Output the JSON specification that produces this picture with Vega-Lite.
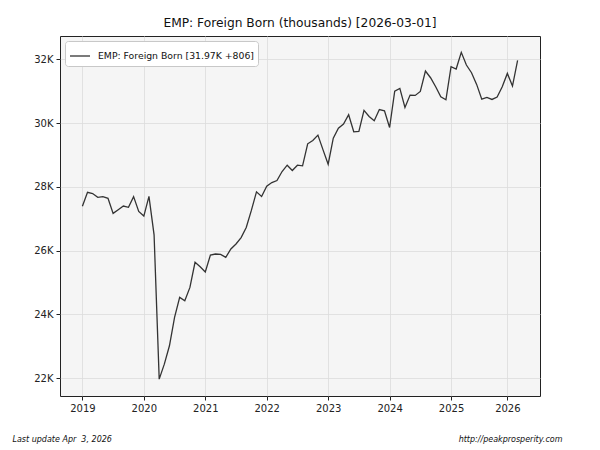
{
  "$schema": "https://vega.github.io/schema/vega-lite/v6.json",
  "width": 480,
  "height": 360,
  "autosize": "none",
  "padding": {"left": 60, "top": 36, "right": 60, "bottom": 54},
  "background": "white",
  "title": {
    "text": "EMP: Foreign Born (thousands) [2026-03-01]",
    "font": "DejaVu Sans",
    "fontSize": 12.25,
    "fontWeight": "normal",
    "color": "#111111",
    "anchor": "middle",
    "offset": 7
  },
  "config": {
    "view": {"fill": "#f5f5f5", "stroke": "#222222", "strokeWidth": 1},
    "axis": {
      "labelFont": "DejaVu Sans",
      "labelFontSize": 10,
      "labelColor": "#222222",
      "tickColor": "#222222",
      "tickSize": 4,
      "labelPadding": 3,
      "domain": false,
      "gridColor": "#dcdcdc",
      "gridWidth": 0.8
    }
  },
  "data": {
    "values": [
      {"month": "2019-01", "value": 27390, "series": "EMP: Foreign Born [31.97K +806]"},
      {"month": "2019-02", "value": 27832, "series": "EMP: Foreign Born [31.97K +806]"},
      {"month": "2019-03", "value": 27790, "series": "EMP: Foreign Born [31.97K +806]"},
      {"month": "2019-04", "value": 27674, "series": "EMP: Foreign Born [31.97K +806]"},
      {"month": "2019-05", "value": 27695, "series": "EMP: Foreign Born [31.97K +806]"},
      {"month": "2019-06", "value": 27642, "series": "EMP: Foreign Born [31.97K +806]"},
      {"month": "2019-07", "value": 27170, "series": "EMP: Foreign Born [31.97K +806]"},
      {"month": "2019-08", "value": 27285, "series": "EMP: Foreign Born [31.97K +806]"},
      {"month": "2019-09", "value": 27400, "series": "EMP: Foreign Born [31.97K +806]"},
      {"month": "2019-10", "value": 27358, "series": "EMP: Foreign Born [31.97K +806]"},
      {"month": "2019-11", "value": 27695, "series": "EMP: Foreign Born [31.97K +806]"},
      {"month": "2019-12", "value": 27232, "series": "EMP: Foreign Born [31.97K +806]"},
      {"month": "2020-01", "value": 27085, "series": "EMP: Foreign Born [31.97K +806]"},
      {"month": "2020-02", "value": 27705, "series": "EMP: Foreign Born [31.97K +806]"},
      {"month": "2020-03", "value": 26496, "series": "EMP: Foreign Born [31.97K +806]"},
      {"month": "2020-04", "value": 21970, "series": "EMP: Foreign Born [31.97K +806]"},
      {"month": "2020-05", "value": 22440, "series": "EMP: Foreign Born [31.97K +806]"},
      {"month": "2020-06", "value": 23016, "series": "EMP: Foreign Born [31.97K +806]"},
      {"month": "2020-07", "value": 23906, "series": "EMP: Foreign Born [31.97K +806]"},
      {"month": "2020-08", "value": 24534, "series": "EMP: Foreign Born [31.97K +806]"},
      {"month": "2020-09", "value": 24429, "series": "EMP: Foreign Born [31.97K +806]"},
      {"month": "2020-10", "value": 24848, "series": "EMP: Foreign Born [31.97K +806]"},
      {"month": "2020-11", "value": 25634, "series": "EMP: Foreign Born [31.97K +806]"},
      {"month": "2020-12", "value": 25497, "series": "EMP: Foreign Born [31.97K +806]"},
      {"month": "2021-01", "value": 25330, "series": "EMP: Foreign Born [31.97K +806]"},
      {"month": "2021-02", "value": 25864, "series": "EMP: Foreign Born [31.97K +806]"},
      {"month": "2021-03", "value": 25895, "series": "EMP: Foreign Born [31.97K +806]"},
      {"month": "2021-04", "value": 25884, "series": "EMP: Foreign Born [31.97K +806]"},
      {"month": "2021-05", "value": 25790, "series": "EMP: Foreign Born [31.97K +806]"},
      {"month": "2021-06", "value": 26053, "series": "EMP: Foreign Born [31.97K +806]"},
      {"month": "2021-07", "value": 26210, "series": "EMP: Foreign Born [31.97K +806]"},
      {"month": "2021-08", "value": 26410, "series": "EMP: Foreign Born [31.97K +806]"},
      {"month": "2021-09", "value": 26726, "series": "EMP: Foreign Born [31.97K +806]"},
      {"month": "2021-10", "value": 27262, "series": "EMP: Foreign Born [31.97K +806]"},
      {"month": "2021-11", "value": 27845, "series": "EMP: Foreign Born [31.97K +806]"},
      {"month": "2021-12", "value": 27700, "series": "EMP: Foreign Born [31.97K +806]"},
      {"month": "2022-01", "value": 28020, "series": "EMP: Foreign Born [31.97K +806]"},
      {"month": "2022-02", "value": 28136, "series": "EMP: Foreign Born [31.97K +806]"},
      {"month": "2022-03", "value": 28199, "series": "EMP: Foreign Born [31.97K +806]"},
      {"month": "2022-04", "value": 28482, "series": "EMP: Foreign Born [31.97K +806]"},
      {"month": "2022-05", "value": 28681, "series": "EMP: Foreign Born [31.97K +806]"},
      {"month": "2022-06", "value": 28513, "series": "EMP: Foreign Born [31.97K +806]"},
      {"month": "2022-07", "value": 28681, "series": "EMP: Foreign Born [31.97K +806]"},
      {"month": "2022-08", "value": 28660, "series": "EMP: Foreign Born [31.97K +806]"},
      {"month": "2022-09", "value": 29351, "series": "EMP: Foreign Born [31.97K +806]"},
      {"month": "2022-10", "value": 29455, "series": "EMP: Foreign Born [31.97K +806]"},
      {"month": "2022-11", "value": 29623, "series": "EMP: Foreign Born [31.97K +806]"},
      {"month": "2022-12", "value": 29162, "series": "EMP: Foreign Born [31.97K +806]"},
      {"month": "2023-01", "value": 28712, "series": "EMP: Foreign Born [31.97K +806]"},
      {"month": "2023-02", "value": 29529, "series": "EMP: Foreign Born [31.97K +806]"},
      {"month": "2023-03", "value": 29843, "series": "EMP: Foreign Born [31.97K +806]"},
      {"month": "2023-04", "value": 29969, "series": "EMP: Foreign Born [31.97K +806]"},
      {"month": "2023-05", "value": 30262, "series": "EMP: Foreign Born [31.97K +806]"},
      {"month": "2023-06", "value": 29728, "series": "EMP: Foreign Born [31.97K +806]"},
      {"month": "2023-07", "value": 29738, "series": "EMP: Foreign Born [31.97K +806]"},
      {"month": "2023-08", "value": 30398, "series": "EMP: Foreign Born [31.97K +806]"},
      {"month": "2023-09", "value": 30209, "series": "EMP: Foreign Born [31.97K +806]"},
      {"month": "2023-10", "value": 30073, "series": "EMP: Foreign Born [31.97K +806]"},
      {"month": "2023-11", "value": 30425, "series": "EMP: Foreign Born [31.97K +806]"},
      {"month": "2023-12", "value": 30387, "series": "EMP: Foreign Born [31.97K +806]"},
      {"month": "2024-01", "value": 29864, "series": "EMP: Foreign Born [31.97K +806]"},
      {"month": "2024-02", "value": 31005, "series": "EMP: Foreign Born [31.97K +806]"},
      {"month": "2024-03", "value": 31089, "series": "EMP: Foreign Born [31.97K +806]"},
      {"month": "2024-04", "value": 30492, "series": "EMP: Foreign Born [31.97K +806]"},
      {"month": "2024-05", "value": 30880, "series": "EMP: Foreign Born [31.97K +806]"},
      {"month": "2024-06", "value": 30869, "series": "EMP: Foreign Born [31.97K +806]"},
      {"month": "2024-07", "value": 30995, "series": "EMP: Foreign Born [31.97K +806]"},
      {"month": "2024-08", "value": 31634, "series": "EMP: Foreign Born [31.97K +806]"},
      {"month": "2024-09", "value": 31424, "series": "EMP: Foreign Born [31.97K +806]"},
      {"month": "2024-10", "value": 31141, "series": "EMP: Foreign Born [31.97K +806]"},
      {"month": "2024-11", "value": 30827, "series": "EMP: Foreign Born [31.97K +806]"},
      {"month": "2024-12", "value": 30733, "series": "EMP: Foreign Born [31.97K +806]"},
      {"month": "2025-01", "value": 31770, "series": "EMP: Foreign Born [31.97K +806]"},
      {"month": "2025-02", "value": 31696, "series": "EMP: Foreign Born [31.97K +806]"},
      {"month": "2025-03", "value": 32220, "series": "EMP: Foreign Born [31.97K +806]"},
      {"month": "2025-04", "value": 31822, "series": "EMP: Foreign Born [31.97K +806]"},
      {"month": "2025-05", "value": 31581, "series": "EMP: Foreign Born [31.97K +806]"},
      {"month": "2025-06", "value": 31215, "series": "EMP: Foreign Born [31.97K +806]"},
      {"month": "2025-07", "value": 30754, "series": "EMP: Foreign Born [31.97K +806]"},
      {"month": "2025-08", "value": 30806, "series": "EMP: Foreign Born [31.97K +806]"},
      {"month": "2025-09", "value": 30743, "series": "EMP: Foreign Born [31.97K +806]"},
      {"month": "2025-11", "value": 30817, "series": "EMP: Foreign Born [31.97K +806]"},
      {"month": "2025-12", "value": 31141, "series": "EMP: Foreign Born [31.97K +806]"},
      {"month": "2026-01", "value": 31560, "series": "EMP: Foreign Born [31.97K +806]"},
      {"month": "2026-02", "value": 31164, "series": "EMP: Foreign Born [31.97K +806]"},
      {"month": "2026-03", "value": 31970, "series": "EMP: Foreign Born [31.97K +806]"}
    ]
  },
  "encoding": {
    "y": {
      "field": "value",
      "type": "quantitative",
      "scale": {"domain": [21441, 32733], "nice": false, "zero": false},
      "axis": {
        "title": null,
        "values": [22000, 24000, 26000, 28000, 30000, 32000],
        "labelExpr": "(datum.value / 1000) + 'K'"
      }
    }
  },
  "layer": [
    {
      "mark": {"type": "line", "strokeWidth": 1.3},
      "encoding": {
        "x": {
          "field": "month",
          "type": "ordinal",
          "scale": {
            "type": "point",
            "padding": 0.375,
            "domain": ["2018-09", "2018-10", "2018-11", "2018-12",
              "2019-01", "2019-02", "2019-03", "2019-04", "2019-05", "2019-06", "2019-07", "2019-08", "2019-09", "2019-10", "2019-11", "2019-12",
              "2020-01", "2020-02", "2020-03", "2020-04", "2020-05", "2020-06", "2020-07", "2020-08", "2020-09", "2020-10", "2020-11", "2020-12",
              "2021-01", "2021-02", "2021-03", "2021-04", "2021-05", "2021-06", "2021-07", "2021-08", "2021-09", "2021-10", "2021-11", "2021-12",
              "2022-01", "2022-02", "2022-03", "2022-04", "2022-05", "2022-06", "2022-07", "2022-08", "2022-09", "2022-10", "2022-11", "2022-12",
              "2023-01", "2023-02", "2023-03", "2023-04", "2023-05", "2023-06", "2023-07", "2023-08", "2023-09", "2023-10", "2023-11", "2023-12",
              "2024-01", "2024-02", "2024-03", "2024-04", "2024-05", "2024-06", "2024-07", "2024-08", "2024-09", "2024-10", "2024-11", "2024-12",
              "2025-01", "2025-02", "2025-03", "2025-04", "2025-05", "2025-06", "2025-07", "2025-08", "2025-09", "2025-11", "2025-12",
              "2026-01", "2026-02", "2026-03", "2026-04", "2026-05", "2026-06", "2026-07"]
          },
          "axis": {
            "values": ["2019-01", "2020-01", "2021-01", "2022-01", "2023-01", "2024-01", "2025-01", "2026-01"],
            "labelExpr": "slice(datum.value, 0, 4)",
            "labelAngle": 0,
            "grid": true,
            "title": "Last update Apr \u00a03, 2026",
            "titleFont": "DejaVu Sans",
            "titleFontSize": 8,
            "titleFontStyle": "italic",
            "titleFontWeight": "normal",
            "titleColor": "#111111",
            "titleAlign": "left",
            "titleAnchor": "start",
            "titleBaseline": "middle",
            "titleX": -48,
            "titleY": 43
          }
        },
        "color": {
          "field": "series",
          "type": "nominal",
          "scale": {"range": ["#333333"]},
          "legend": {
            "title": null,
            "orient": "top-left",
            "offset": 5,
            "fillColor": "white",
            "strokeColor": "#c8c8c8",
            "cornerRadius": 3,
            "padding": 4,
            "symbolType": "stroke",
            "symbolSize": 400,
            "symbolStrokeWidth": 1.3,
            "labelFont": "DejaVu Sans",
            "labelFontSize": 9.3,
            "labelColor": "#111111",
            "labelOffset": 7,
            "labelLimit": 400
          }
        }
      }
    },
    {
      "mark": {"type": "line", "strokeOpacity": 0},
      "encoding": {
        "x": {
          "field": "month",
          "type": "ordinal",
          "scale": {"type": "point"},
          "axis": {
            "orient": "bottom",
            "labels": false,
            "ticks": false,
            "domain": false,
            "grid": false,
            "title": "http://peakprosperity.com",
            "titleFont": "DejaVu Sans",
            "titleFontSize": 8,
            "titleFontStyle": "italic",
            "titleFontWeight": "normal",
            "titleColor": "#111111",
            "titleAlign": "right",
            "titleAnchor": "end",
            "titleBaseline": "middle",
            "titleX": 502,
            "titleY": 43
          }
        }
      }
    }
  ],
  "resolve": {"scale": {"x": "independent"}, "axis": {"x": "independent"}}
}
